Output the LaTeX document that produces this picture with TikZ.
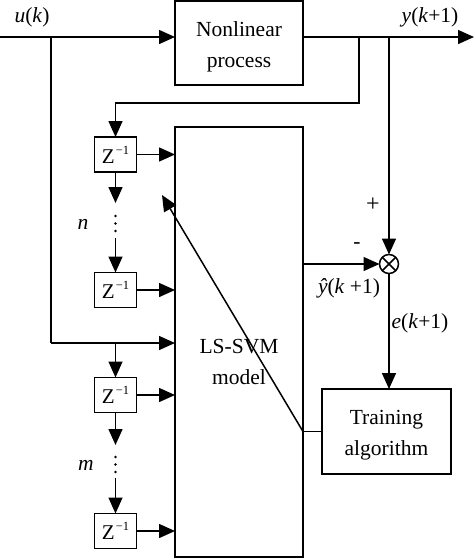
\documentclass[tikz,border=0pt]{standalone}
\usepackage{fontspec}
\setmainfont{Liberation Serif}
\usetikzlibrary{arrows.meta}
\tikzset{
  every node/.style={font=\fontsize{21.5}{31}\selectfont},
  arr/.style={-{Triangle[length=16pt,width=14pt]}},
  blk/.style={draw, rectangle, inner sep=0pt, outer sep=0pt, align=center},
  zbox/.style={blk, minimum width=42, minimum height=35, font=\fontsize{21}{24}\selectfont},
  lbl/.style={inner sep=0pt}
}
\newcommand{\zinv}{Z\kern1pt\raisebox{0.42em}{\fontsize{12.5}{12.5}\selectfont −1}}
\begin{document}
\begin{tikzpicture}[x=1pt,y=-1pt,line width=1.5pt]
\useasboundingbox (0,0) rectangle (474,558);
% blocks
\node[blk, minimum width=128, minimum height=84] (NP) at (239,43) {\rule{0pt}{22pt}Nonlinear\\process};
\node[blk, minimum width=128, minimum height=430] (LS) at (239,342) {};
\node[lbl, align=center] (LStxt) at (239,362) {LS-SVM\\model};
\node[blk, minimum width=129, minimum height=85] (TA) at (386.5,431.5) {\rule{0pt}{22pt}Training\\algorithm};
\node[zbox] (Z1) at (115.5,154.5) {\zinv};
\node[zbox] (Z2) at (115.5,290) {\zinv};
\node[zbox] (Z3) at (115.5,395) {\zinv};
\node[zbox] (Z4) at (115.5,531) {\zinv};
\node[draw, circle, minimum size=19, inner sep=0pt, outer sep=0pt] (C) at (389,264) {};
\draw (C.north east) -- (C.south west) (C.north west) -- (C.south east);
% coordinates
\coordinate (in) at (0,37);
\coordinate (out) at (474,37);
\coordinate (u1) at (51,37);
\coordinate (u2) at (51,343);
\coordinate (u3) at (115.5,343);
\coordinate (y1) at (359,37);
\coordinate (y2) at (359,103);
\coordinate (y3) at (389,37);
\coordinate (a1) at (115.5,203);
\coordinate (a2) at (115.5,238);
\coordinate (a3) at (115.5,445);
\coordinate (a4) at (115.5,478);
\coordinate (tip) at (162,195);
% connectors
\draw[arr] (in) -- (in -| NP.west);
\draw[arr] (in -| NP.east) -- (out);
\draw (u1) -- (u2);
\draw[arr] (u2) -- (u2 -| LS.west);
\draw[arr] (u3) -- (Z3.north);
\draw[arr] (y1) -- (y2) -- (y2 -| Z1.north) -- (Z1.north);
\draw[arr] (y3) -- (C.north);
\draw[arr] (Z1.south) -- (a1);
\draw[arr] (a2) -- (Z2.north);
\draw[arr] (Z3.south) -- (a3);
\draw[arr] (a4) -- (Z4.north);
\foreach \z in {Z1,Z2,Z3,Z4} \draw[arr] (\z.east) -- (\z.east -| LS.west);
\draw[arr] (C.west -| LS.east) -- (C.west);
\draw[arr] (C.south) -- (C.south |- TA.north);
\draw (TA.west) -- (TA.west -| LS.east) coordinate (j);
\draw[arr] (j) -- (tip);
% dots
\foreach \yy in {216,223.5,231,457,464.5,472} \fill (115.5,\yy) circle (1.4);
% labels
\node[lbl] (lu) at (32,17) {\textit{u}(\textit{k})};
\node[lbl] (ly) at (430,17) {\textit{y}(\textit{k}+1)};
\node[lbl, font=\fontsize{24}{24}\selectfont] (lplus) at (373,205) {+};
\node[lbl] (lminus) at (357,246) {-};
\node[lbl] (lyhat) at (349,288) {\textit{ŷ}(\textit{k} +1)};
\node[lbl] (le) at (420,323) {\textit{e}(\textit{k}+1)};
\node[lbl] (ln) at (83,224) {\textit{n}};
\node[lbl] (lm) at (86,465) {\textit{m}};
\end{tikzpicture}
\end{document}
